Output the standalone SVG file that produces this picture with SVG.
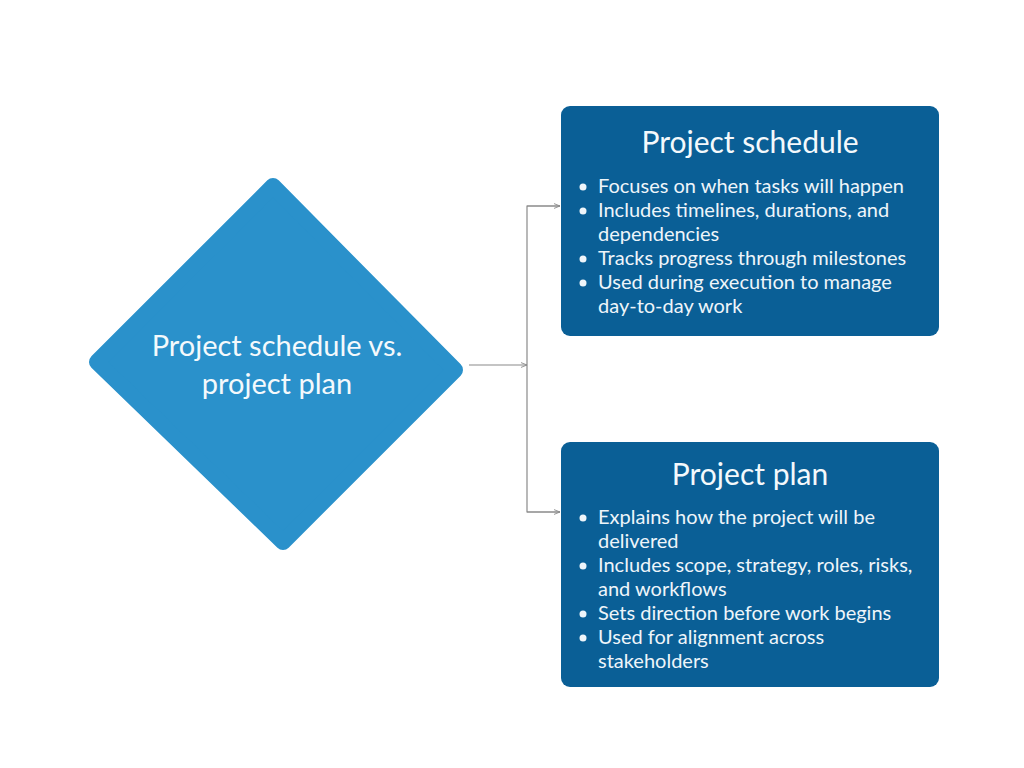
<svg xmlns="http://www.w3.org/2000/svg" width="1024" height="768" viewBox="0 0 1024 768">
<defs>
<style>
.box{fill:#0a5f96}
.title{font-family:Lato,"Liberation Sans",sans-serif;font-size:30px;fill:#f4f9fc;text-anchor:middle}
.item{font-family:Lato,"Liberation Sans",sans-serif;font-size:20px;fill:#eef5fa}
.dot{fill:#eef5fa}
.conn{fill:none;stroke:#8a8a8a;stroke-width:1.2}
.dtext{font-family:Lato,"Liberation Sans",sans-serif;font-size:29px;fill:#f4f9fc;text-anchor:middle}
</style>
<marker id="arr" viewBox="0 0 10 10" refX="10" refY="5" markerWidth="6" markerHeight="6" orient="auto" markerUnits="userSpaceOnUse">
<path d="M0,1 L10,5 L0,9" fill="none" stroke="#8a8a8a" stroke-width="1.5"/>
</marker>
</defs>
<rect width="1024" height="768" fill="#ffffff"/>
<g id="connectors">
<line class="conn" x1="469" y1="365" x2="527" y2="365" marker-end="url(#arr)"/>
<polyline class="conn" points="560,206 527,206 527,512 560,512"/>
<line class="conn" x1="527" y1="206" x2="560" y2="206" marker-end="url(#arr)"/>
<line class="conn" x1="527" y1="512" x2="560" y2="512" marker-end="url(#arr)"/>
</g>
<g id="center">
<polygon points="273,186 455,370 283,542 97,362" fill="#2a91cb" stroke="#2a91cb" stroke-width="16" stroke-linejoin="round"/>
<text class="dtext" x="277" y="356">Project schedule vs.</text>
<text class="dtext" x="277" y="394">project plan</text>
</g>
<g id="schedule">
<rect class="box" x="561" y="106" width="378" height="230" rx="9"/>
<text class="title" x="750" y="153">Project schedule</text>
<circle class="dot" cx="583" cy="187" r="3.5"/>
<circle class="dot" cx="583" cy="211" r="3.5"/>
<circle class="dot" cx="583" cy="259" r="3.5"/>
<circle class="dot" cx="583" cy="283" r="3.5"/>
<text class="item" x="598" y="193">Focuses on when tasks will happen</text>
<text class="item" x="598" y="217">Includes timelines, durations, and</text>
<text class="item" x="598" y="241">dependencies</text>
<text class="item" x="598" y="265">Tracks progress through milestones</text>
<text class="item" x="598" y="289">Used during execution to manage</text>
<text class="item" x="598" y="313">day-to-day work</text>
</g>
<g id="plan">
<rect class="box" x="561" y="442" width="378" height="245" rx="9"/>
<text class="title" x="750" y="485">Project plan</text>
<circle class="dot" cx="583" cy="518" r="3.5"/>
<circle class="dot" cx="583" cy="566" r="3.5"/>
<circle class="dot" cx="583" cy="614" r="3.5"/>
<circle class="dot" cx="583" cy="638" r="3.5"/>
<text class="item" x="598" y="524">Explains how the project will be</text>
<text class="item" x="598" y="548">delivered</text>
<text class="item" x="598" y="572">Includes scope, strategy, roles, risks,</text>
<text class="item" x="598" y="596">and workflows</text>
<text class="item" x="598" y="620">Sets direction before work begins</text>
<text class="item" x="598" y="644">Used for alignment across</text>
<text class="item" x="598" y="668">stakeholders</text>
</g>
</svg>
